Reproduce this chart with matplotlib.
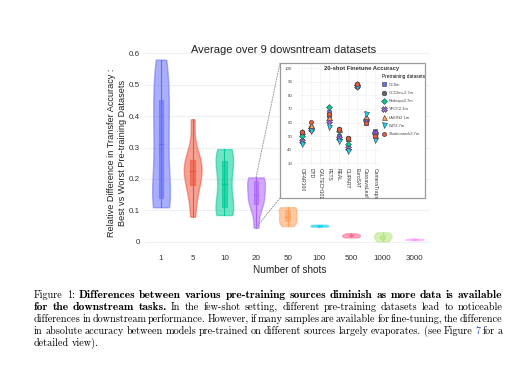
import numpy as np
import matplotlib
matplotlib.use('Agg')
import matplotlib.pyplot as plt
from matplotlib.patches import Rectangle, ConnectionPatch

plt.rcParams['font.family'] = ['Liberation Sans', 'DejaVu Sans']

# ---- main violin data (relative difference per number of shots)
shots = ['1', '5', '10', '20', '50', '100', '500', '1000', '3000']
diff_1 = [0.11, 0.115, 0.12, 0.14, 0.20, 0.27, 0.31, 0.36, 0.41, 0.45, 0.50, 0.55, 0.58]
diff_5 = [0.08, 0.15, 0.18, 0.21, 0.225, 0.24, 0.26, 0.28, 0.39]
diff_10 = [0.085, 0.09, 0.10, 0.12, 0.16, 0.185, 0.22, 0.245, 0.27, 0.285, 0.295]
diff_20 = [0.045, 0.10, 0.12, 0.14, 0.15, 0.17, 0.195, 0.20, 0.205]
diff_50 = [0.05, 0.058, 0.065, 0.075, 0.08, 0.09, 0.10, 0.105, 0.11]
diff_100 = [0.048, 0.049, 0.050, 0.051, 0.052, 0.053, 0.054]
diff_500 = [0.014, 0.016, 0.018, 0.020, 0.022, 0.024, 0.027]
diff_1000 = [0.001, 0.006, 0.012, 0.016, 0.020, 0.025, 0.030]
diff_3000 = [0.006, 0.007, 0.008, 0.009]
violin_colors = ['#636efa', '#ef553b', '#00cc96', '#ab63fa', '#ffa15a',
                 '#19d3f3', '#ff6692', '#b6e880', '#ff97ff']

# ---- inset: 20-shot finetune accuracy
tasks = ['CIFAR100', 'DTD', 'CALTECH101', 'PETS', 'REAL', 'CLIPART',
         'EuroSAT', 'CassavaLeaf', 'CameraTraps']
nan = np.nan
acc_cc6m = [52, 55, nan, 68, 50, 48, 87, 60, 53.5]
acc_cc12m = [53, 57, nan, 65, 55, 49, 88, 62, 52]
acc_redcaps = [50.5, 56, nan, 71.5, 54, 44.5, 87.5, 62, 52]
acc_yfcc = [46.5, 55, nan, 61, 49, 41, 87, 62, 52]
acc_laion = [54, 58, nan, 64, 55, 49, 89, 64.5, 51]
acc_wit = [44, 53.5, nan, 57, 46.5, 39, 86, 66.5, 47]
acc_shutter = [53, 60.5, nan, 66, 55, 48.5, 88, 60, 50.5]
pretrain_names = ['CC6m', 'CC12m+2.7m', 'Redcaps2.7m', 'YFCC2.1m',
                  'LAION2.1m', 'WIT2.7m', 'Shutterstock2.7m']

W, H = 529, 365
fig = plt.figure(figsize=(W / 100, H / 100), dpi=100)

def fx(px):
    return px / W

def fy(py):
    return 1 - py / H

# ---------------- main axes
ax = fig.add_axes([fx(145.2), fy(254.3), fx(285), (254.3 - 50.2) / H])
data = [diff_1, diff_5, diff_10, diff_20, diff_50, diff_100, diff_500, diff_1000, diff_3000]
pos = np.arange(len(shots))
parts = ax.violinplot(data, positions=pos, widths=0.56, showextrema=False,
                      bw_method=0.5)
for body, c in zip(parts['bodies'], violin_colors):
    body.set_facecolor(c)
    body.set_edgecolor(c)
    body.set_alpha(0.55)
    body.set_linewidth(1.0)
    body.set_zorder(3)

for p, vals, c in zip(pos, data, violin_colors):
    q1, med, q3 = np.percentile(vals, [25, 50, 75])
    ax.plot([p, p], [min(vals), max(vals)], color=c, lw=0.8, zorder=4)
    ax.add_patch(Rectangle((p - 0.075, q1), 0.15, q3 - q1, facecolor=c,
                           edgecolor=c, alpha=0.6, lw=0.8, zorder=5))
    ax.plot([p - 0.075, p + 0.075], [med, med], color=c, lw=0.9, zorder=6)

ax.set_xlim(-0.5, 8.5)
ax.set_ylim(-0.04, 0.61)
ax.set_xticks(pos)
ax.set_xticklabels(shots, fontsize=5.8, color='#333333')
ax.set_yticks([0, 0.1, 0.2, 0.3, 0.4, 0.5, 0.6])
ax.set_yticklabels(['0', '0.1', '0.2', '0.3', '0.4', '0.5', '0.6'],
                   fontsize=5.8, color='#333333')
ax.tick_params(length=0, pad=4)
ax.tick_params(axis='x', pad=0.5)
ax.grid(axis='y', color='#eef0f5', lw=0.8)
ax.set_axisbelow(True)
for s in ax.spines.values():
    s.set_visible(False)

fig.text(fx(284), fy(50), 'Average over 9 dowsntream datasets', fontsize=8,
         ha='center', va='center', color='#222222')
fig.text(fx(290), fy(270), 'Number of shots', fontsize=7.2, ha='center',
         va='center', color='#222222')
fig.text(fx(117), fy(153),
         'Relative Difference in Transfer Accuracy :\nBest vs Worst Pre-training Datasets',
         fontsize=6.6, rotation=90, ha='center', va='center', color='#222222',
         linespacing=1.25)

# ---------------- inset frame + axes
fx0, fy0, fx1, fy1 = 280, 63, 425, 198
frame = Rectangle((fx(fx0), fy(fy1)), fx(fx1 - fx0), (fy1 - fy0) / H,
                  transform=fig.transFigure, facecolor='white',
                  edgecolor='#9a9a9a', lw=0.9, zorder=1)
fig.add_artist(frame)

iax = fig.add_axes([fx(297.8), fy(166.2), fx(81.5), (166.2 - 65.3) / H])
iax.set_zorder(2)
iax.patch.set_alpha(0)
series = [acc_cc6m, acc_cc12m, acc_redcaps, acc_yfcc, acc_laion, acc_wit, acc_shutter]
markers = ['s', 'o', 'D', 'X', '^', 'v', 'h']
mcolors = ['#636efa', '#5b6770', '#00cc96', '#ab63fa', '#ffa15a', '#19d3f3', '#ef553b']
msizes = [3.4, 3.4, 3.0, 3.8, 3.6, 3.6, 3.4]
xi = np.arange(len(tasks))
handles = []
for vals, m, c, ms, name in zip(series, markers, mcolors, msizes, pretrain_names):
    h, = iax.plot(xi, vals, linestyle='none', marker=m, color=c, markersize=ms,
                  markeredgecolor='#3a3a3a', markeredgewidth=0.4, label=name)
    handles.append(h)
iax.set_xlim(-0.5, 8.5)
iax.set_ylim(28, 102)
iax.set_yticks([30, 40, 50, 60, 70, 80, 90, 100])
iax.tick_params(axis='y', labelsize=3.2, length=0, pad=4, labelcolor='#444444')
iax.set_xticks(xi)
iax.set_xticklabels(tasks, rotation=-90, fontsize=3.6, color='#333333')
iax.tick_params(axis='x', length=0, pad=1)
iax.grid(color='#eef0f5', lw=0.5)
iax.set_axisbelow(True)
for s in iax.spines.values():
    s.set_visible(False)
fig.text(fx(361.7), fy(68.3), '20-shot Finetune Accuracy', fontsize=4.2,
         fontweight='bold', ha='center', va='center', color='#333333', zorder=3)
leg = fig.legend(handles=handles, loc='upper left',
                 bbox_to_anchor=(fx(379.5), fy(71.5)), frameon=False,
                 title='Pretraining datasets', title_fontsize=3.4, fontsize=2.9,
                 labelspacing=1.05, handletextpad=0.6, handlelength=1.2,
                 borderpad=0, alignment='left')
leg.set_zorder(3)
for t in leg.get_texts():
    t.set_color('#444444')

# dotted zoom connectors from the 20-shot violin to the inset
for yv, py in [(max(diff_20), fy0), (min(diff_20), fy1)]:
    con = ConnectionPatch(xyA=(3, yv), coordsA=ax.transData,
                          xyB=(fx(fx0), fy(py)), coordsB=fig.transFigure,
                          linestyle=(0, (1.2, 1.5)), color='#9a9a9a', lw=0.7)
    con.set_zorder(1.5)
    fig.add_artist(con)

# ---------------- caption (justified, LaTeX style)
cap_rm = dict(family='cmr10', fontsize=7.35, color='black')
cap_bf = dict(family='cmb10', fontsize=8.3, color='black')
cap_link = dict(family='cmr10', fontsize=7.35, color='#3f5fd6')

def words(text, props):
    return [(w, props) for w in text.split()]

caption_lines = [
    words('Figure 1:', cap_rm) + words('Differences between various pre-training sources diminish as more data is available', cap_bf),
    words('for the downstream tasks.', cap_bf) + words('In the few-shot setting, different pre-training datasets lead to noticeable', cap_rm),
    words('differences in downstream performance. However, if many samples are available for fine-tuning, the difference', cap_rm),
    words('in absolute accuracy between models pre-trained on different sources largely evaporates. (see Figure', cap_rm)
    + [('7', cap_link)] + words('for a', cap_rm),
    words('detailed view).', cap_rm),
]
cap_y = [295, 307, 319.2, 331.4, 343.5]
x_left, x_right = 34, 502.5

renderer = fig.canvas.get_renderer()
for i, (line, ypx) in enumerate(zip(caption_lines, cap_y)):
    texts = [fig.text(0, fy(ypx + 2.6), w, va='baseline', ha='left', **p) for w, p in line]
    widths = [t.get_window_extent(renderer).width for t in texts]
    if i < len(caption_lines) - 1:
        gap = (x_right - x_left - sum(widths)) / (len(texts) - 1)
    else:
        gap = 3.0
    x = x_left
    for t, w in zip(texts, widths):
        t.set_x(fx(x))
        x += w + gap

fig.savefig('out.png', dpi=100)
